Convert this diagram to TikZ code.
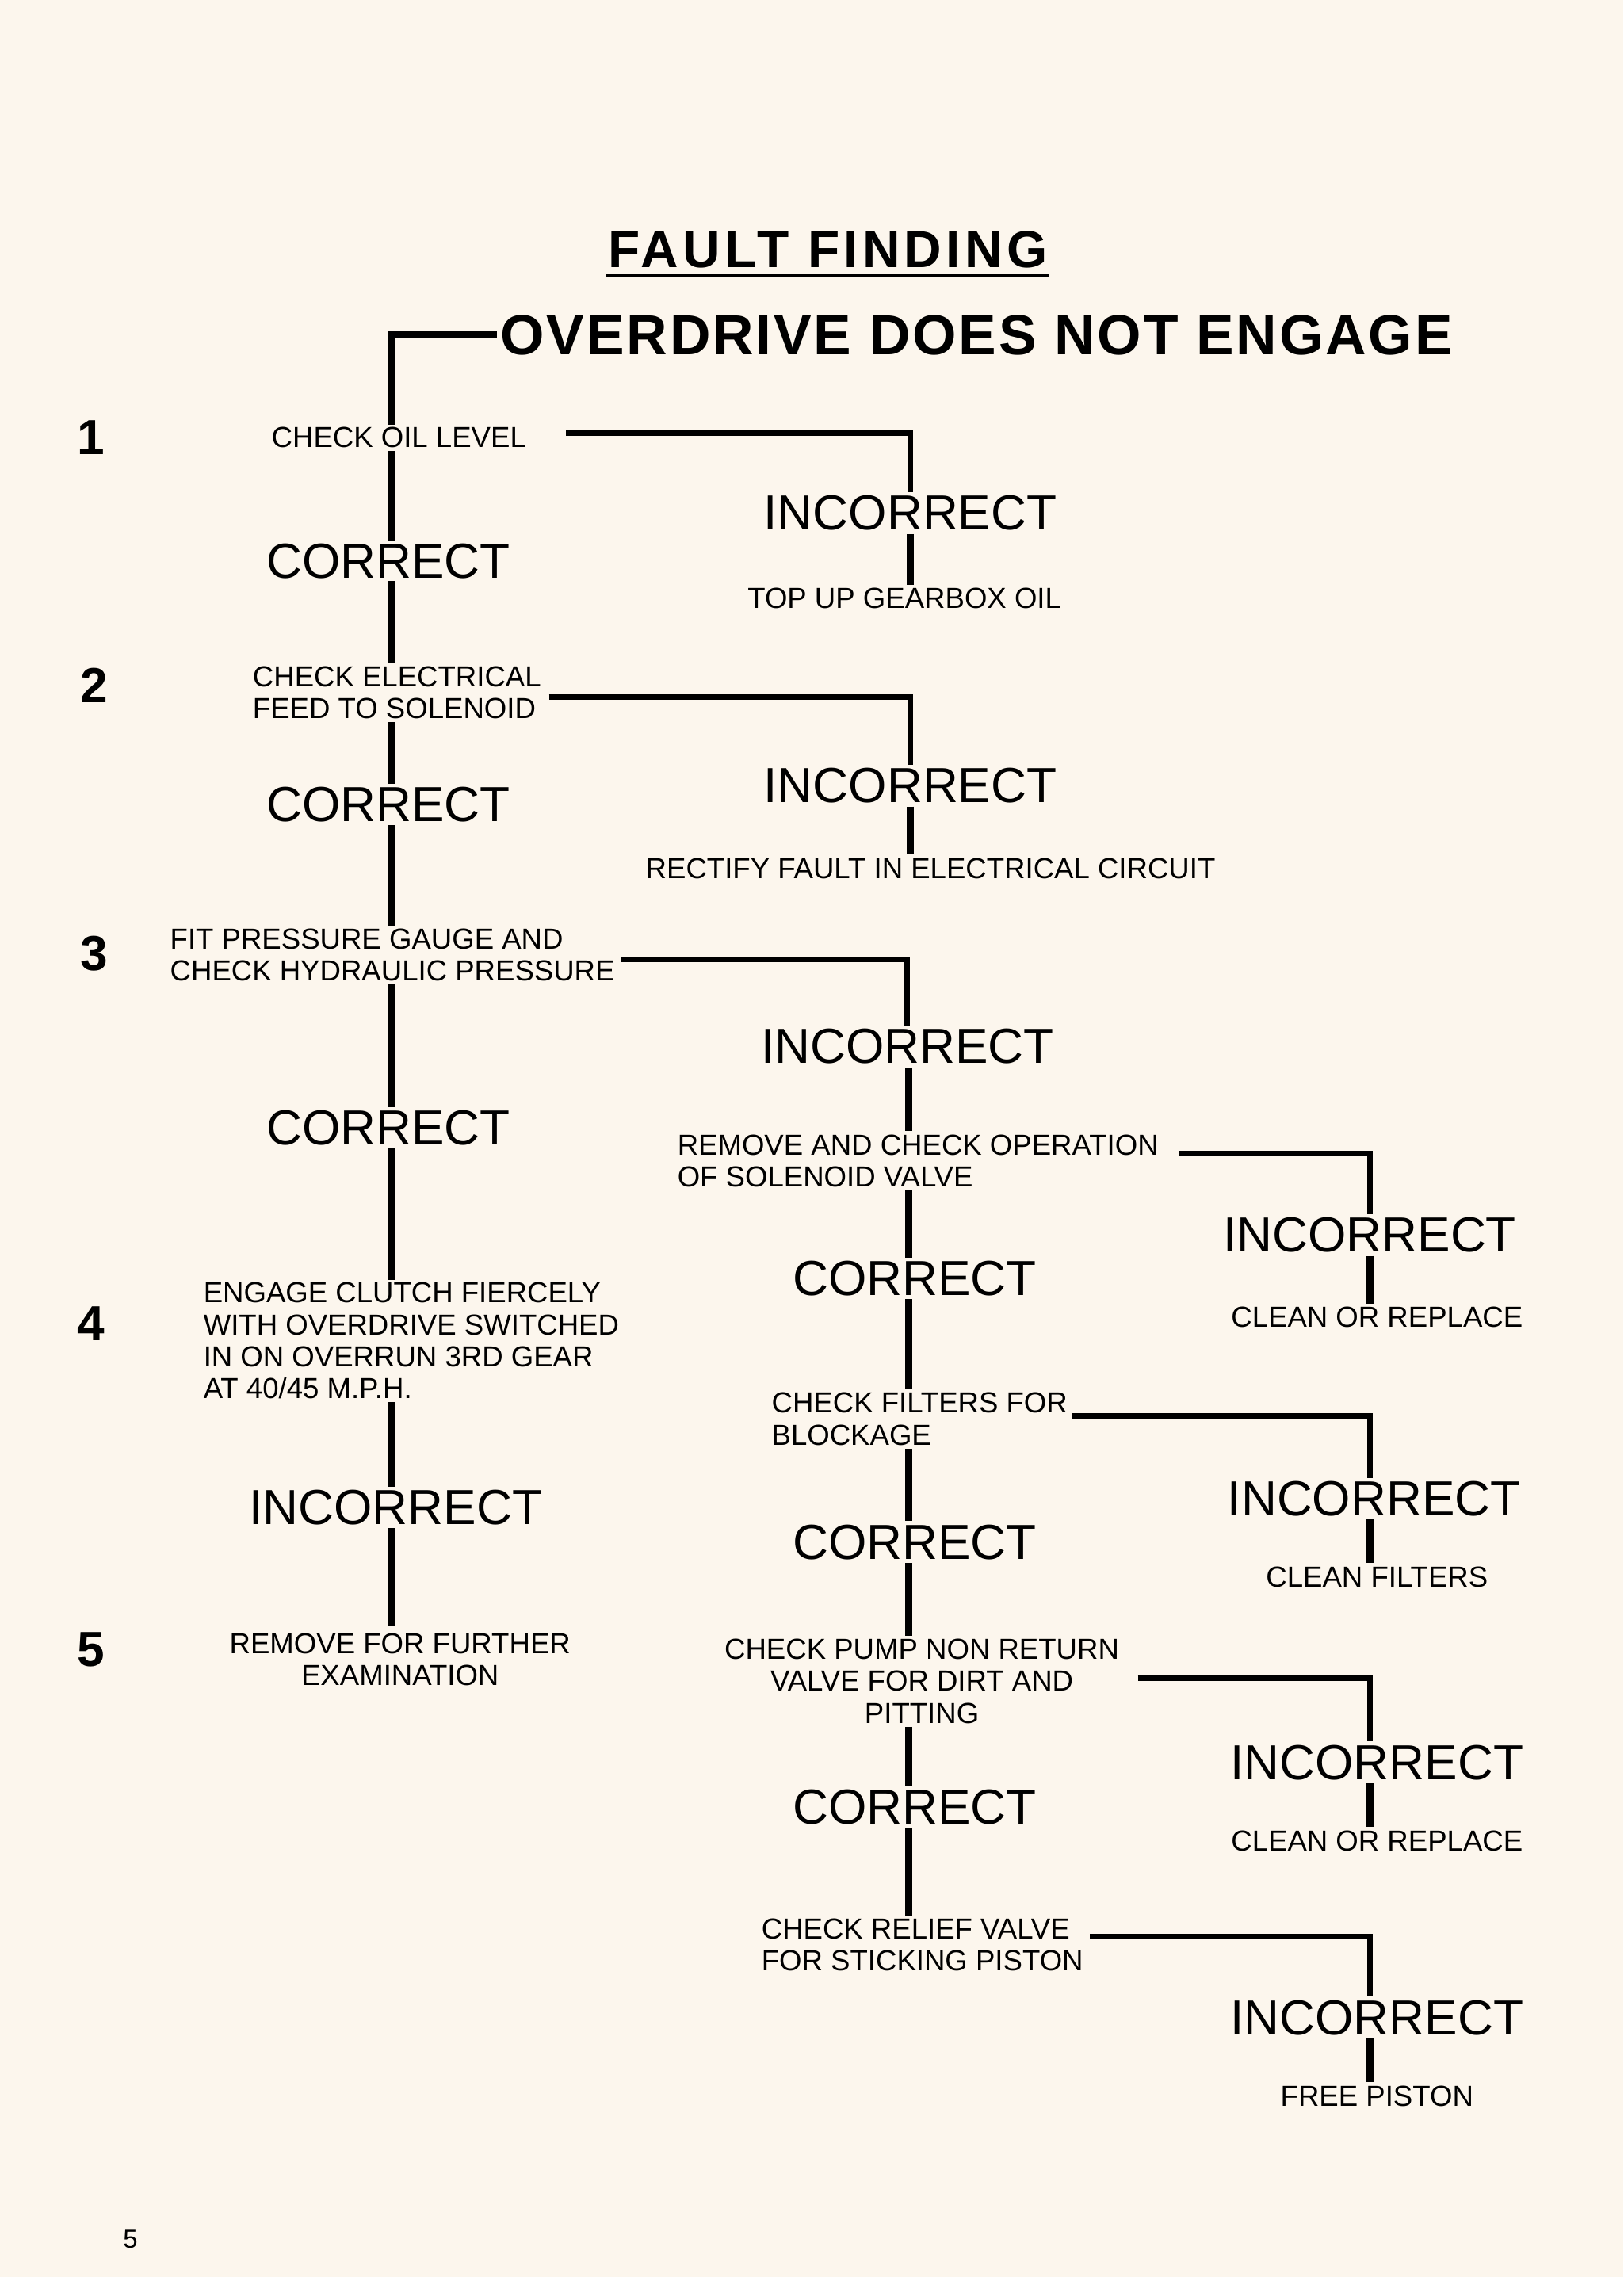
\documentclass[tikz,border=0pt]{standalone}
\usepackage{fontspec}
\setmainfont{Liberation Sans}
\begin{document}
\begin{tikzpicture}[x=0.5pt,y=-0.5pt,
  sm/.style={font=\fontsize{10}{10.5}\selectfont,inner sep=1pt,align=left},
  big/.style={font=\fontsize{17}{18}\selectfont,inner sep=1pt,fill=bg},
  num/.style={font=\bfseries\fontsize{17}{18}\selectfont},
  vl/.style={line width=2.5pt},
  hl/.style={line width=2pt}]
\definecolor{bg}{RGB}{252,246,237}
\fill[bg] (0,0) rectangle (1120,1571);
\useasboundingbox (0,0) rectangle (1120,1571);
% title
\node[font=\bfseries\fontsize{18}{19}\selectfont\addfontfeature{LetterSpace=8}] (title) at (571,172) {FAULT FINDING};
\draw[line width=1pt] (418,190) -- (724,190);
\node[font=\bfseries\fontsize{19.5}{20}\selectfont\addfontfeature{LetterSpace=4},anchor=west,inner sep=1pt] (od) at (343,231) {OVERDRIVE DOES NOT ENGAGE};
% numbers
\node[num] (n1) at (63,302) {1};
\node[num] (n2) at (65,473) {2};
\node[num] (n3) at (65,658) {3};
\node[num] (n4) at (63,913) {4};
\node[num] (n5) at (63,1138) {5};
\node[font=\fontsize{9}{9}\selectfont] (pg) at (90,1545) {5};
% left column
\coordinate (top) at (270,231);
\coordinate (lend) at (270,1122);
\draw[vl] (od.west) -- (top) -- (lend);
\node[sm,fill=bg,anchor=west] (c1) at (185,302) {CHECK OIL LEVEL};
\node[big] (ok1) at (268,387) {CORRECT};
\node[sm,fill=bg,anchor=west] (c2) at (172,478) {CHECK ELECTRICAL\\[0.5pt]FEED TO SOLENOID};
\node[big] (ok2) at (268,555) {CORRECT};
\node[sm,fill=bg,anchor=west] (c3) at (115,659) {FIT PRESSURE GAUGE AND\\[0.5pt]CHECK HYDRAULIC PRESSURE};
\node[big] (ok3) at (268,778) {CORRECT};
\node[sm,fill=bg,anchor=west] (c4) at (138,925) {ENGAGE CLUTCH FIERCELY\\[0.5pt]WITH OVERDRIVE SWITCHED\\[0.5pt]IN ON OVERRUN 3RD GEAR\\[0.5pt]AT 40/45 M.P.H.};
\node[big] (bad4) at (273,1040) {INCORRECT};
\node[sm,align=center,fill=bg] (r4) at (276,1145) {REMOVE FOR FURTHER\\[0.5pt]EXAMINATION};
% branch 1
\node[big] (bad1) at (628,354) {INCORRECT};
\node[sm] (r1) at (624,413) {TOP UP GEARBOX OIL};
\draw[hl] (c1.east) ++(25,-3) -| (bad1.north);
\draw[vl] (bad1.south) -- (bad1.south |- r1.north);
% branch 2
\node[big] (bad2) at (628,542) {INCORRECT};
\node[sm] (r2) at (642,599) {RECTIFY FAULT IN ELECTRICAL CIRCUIT};
\draw[hl] (c2.east) ++(3,3) -| (bad2.north);
\draw[vl] (bad2.south) -- (bad2.south |- r2.north);
% branch 3 middle column
\node[big] (bad3) at (626,722) {INCORRECT};
\draw[hl] (c3.east) ++(2,3) -| (bad3.north);
\node[sm,fill=bg,anchor=west] (m1) at (465,801) {REMOVE AND CHECK OPERATION\\[0.5pt]OF SOLENOID VALVE};
\node[big] (mok1) at (631,882) {CORRECT};
\node[sm,fill=bg,anchor=west] (m2) at (530,979) {CHECK FILTERS FOR\\[0.5pt]BLOCKAGE};
\node[big] (mok2) at (631,1064) {CORRECT};
\node[sm,align=center,fill=bg] (m3) at (636,1160) {CHECK PUMP NON RETURN\\[0.5pt]VALVE FOR DIRT AND\\[0.5pt]PITTING};
\node[big] (mok3) at (631,1247) {CORRECT};
\node[sm,fill=bg,anchor=west] (m4) at (523,1342) {CHECK RELIEF VALVE\\[0.5pt]FOR STICKING PISTON};
\coordinate (mx) at (627,0);
\draw[vl] (mx |- bad3.south) -- (mx |- m1.north);
\draw[vl] (mx |- m1.south) -- (mx |- mok1.north);
\draw[vl] (mx |- mok1.south) -- (mx |- m2.north);
\draw[vl] (mx |- m2.south) -- (mx |- mok2.north);
\draw[vl] (mx |- mok2.south) -- (mx |- m3.north);
\draw[vl] (mx |- m3.south) -- (mx |- mok3.north);
\draw[vl] (mx |- mok3.south) -- (mx |- m4.north);
% right column
\coordinate (rx) at (945,0);
\node[big] (rb1) at (945,852) {INCORRECT};
\node[sm] (rr1) at (950,909) {CLEAN OR REPLACE};
\draw[hl] (m1.east) ++(12,-5) -| (rx |- rb1.north);
\draw[vl] (rx |- rb1.south) -- (rx |- rr1.north);
\node[big] (rb2) at (948,1034) {INCORRECT};
\node[sm] (rr2) at (950,1088) {CLEAN FILTERS};
\draw[hl] (740,977) -| (rx |- rb2.north);
\draw[vl] (rx |- rb2.south) -- (rx |- rr2.north);
\node[big] (rb3) at (950,1216) {INCORRECT};
\node[sm] (rr3) at (950,1270) {CLEAN OR REPLACE};
\draw[hl] (785,1158) -| (rx |- rb3.north);
\draw[vl] (rx |- rb3.south) -- (rx |- rr3.north);
\node[big] (rb4) at (950,1392) {INCORRECT};
\node[sm] (rr4) at (950,1446) {FREE PISTON};
\draw[hl] (752,1336) -| (rx |- rb4.north);
\draw[vl] (rx |- rb4.south) -- (rx |- rr4.north);
\end{tikzpicture}
\end{document}
